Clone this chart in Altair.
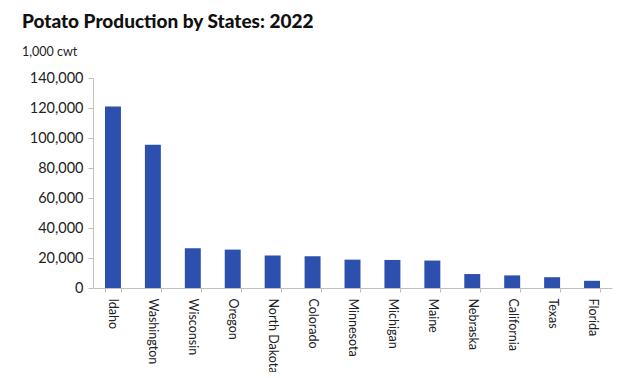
import altair as alt
import pandas as pd

states = ["Idaho", "Washington", "Wisconsin", "Oregon", "North Dakota", "Colorado",
          "Minnesota", "Michigan", "Maine", "Nebraska", "California", "Texas", "Florida"]
production = [121000, 95500, 26500, 25600, 21700, 21200, 18900, 18700, 18300, 9300, 8400, 7200, 4800]

df = pd.DataFrame({"state": states, "production": production})

FONT = "Lato"

chart = alt.Chart(df).mark_bar(color="#2D50AE").encode(
    x=alt.X("state:N", sort=states, title=None,
            scale=alt.Scale(paddingInner=0.6, paddingOuter=0.3),
            axis=alt.Axis(labelAngle=90, labelAlign="left", labelBaseline="middle",
                          labelFontSize=12.5, labelColor="#222222", labelFont=FONT,
                          tickBand="extent", tickSize=4, tickColor="#BFBFBF",
                          domainColor="#BFBFBF", labelPadding=6, labelLimit=100)),
    y=alt.Y("production:Q", title=None,
            scale=alt.Scale(domain=[0, 140000]),
            axis=alt.Axis(values=list(range(0, 140001, 20000)), format=",d",
                          labelFontSize=14.5, labelColor="#222222", labelFont=FONT,
                          tickSize=5, tickColor="#BFBFBF", domainColor="#BFBFBF",
                          grid=False, labelPadding=5)),
).properties(
    width=519, height=210,
    title=alt.TitleParams(
        text="Potato Production by States: 2022",
        subtitle="1,000 cwt",
        anchor="start", frame="group", dx=-71, offset=12,
        font=FONT, fontSize=19, fontWeight=900, color="#111111",
        subtitleFont=FONT, subtitleFontSize=12.5, subtitleColor="#222222",
        subtitlePadding=14,
    ),
    autosize="none",
    padding={"left": 85, "top": 70, "right": 20, "bottom": 84},
).configure_view(stroke=None)

chart.save("out.html", embed_options={"renderer": "svg", "actions": False})
